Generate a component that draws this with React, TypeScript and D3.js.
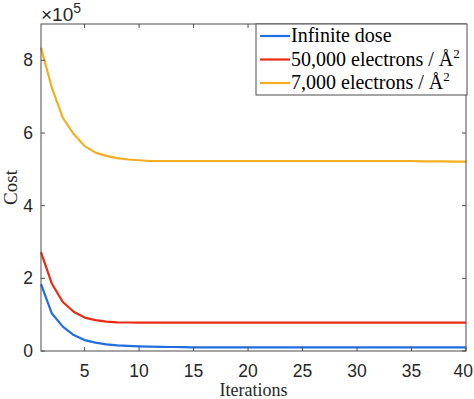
import React from "react";
import * as d3 from "d3";

// Cost per iteration (units of 1e5)
const iterations = d3.range(1, 41);
const infiniteDose = [1.84, 1.03, 0.67, 0.44, 0.3, 0.23, 0.18, 0.155, 0.14, 0.13, 0.12, 0.115, 0.11, 0.105, 0.1, 0.1, 0.1, 0.1, 0.1, 0.1, 0.1, 0.1, 0.1, 0.1, 0.1, 0.1, 0.1, 0.1, 0.1, 0.1, 0.1, 0.1, 0.1, 0.1, 0.1, 0.1, 0.1, 0.1, 0.1, 0.1];
const dose50k = [2.72, 1.85, 1.35, 1.08, 0.92, 0.85, 0.81, 0.79, 0.785, 0.78, 0.78, 0.78, 0.78, 0.78, 0.78, 0.78, 0.78, 0.78, 0.78, 0.78, 0.78, 0.78, 0.78, 0.78, 0.78, 0.78, 0.78, 0.78, 0.78, 0.78, 0.78, 0.78, 0.78, 0.78, 0.78, 0.78, 0.78, 0.78, 0.78, 0.78];
const dose7k = [8.35, 7.24, 6.42, 5.97, 5.64, 5.46, 5.37, 5.31, 5.27, 5.25, 5.23, 5.23, 5.23, 5.23, 5.23, 5.23, 5.23, 5.23, 5.23, 5.23, 5.23, 5.23, 5.23, 5.23, 5.23, 5.23, 5.23, 5.23, 5.23, 5.23, 5.23, 5.23, 5.23, 5.23, 5.23, 5.22, 5.22, 5.22, 5.21, 5.21];

const xTicks = [5, 10, 15, 20, 25, 30, 35, 40];
const yTicks = [0, 2, 4, 6, 8];

const series = [
  { name: "Infinite dose", values: infiniteDose, color: "#1f6fe0", sup: false },
  { name: "50,000 electrons / Å", values: dose50k, color: "#ea2a14", sup: true },
  { name: "7,000 electrons / Å", values: dose7k, color: "#f2b01e", sup: true },
];

const W = 474;
const H = 399;
const left = 41, right = 466, top = 24, bottom = 351;

export default function App() {
  const x = d3.scaleLinear().domain([1, 40]).range([left, right]);
  const y = d3.scaleLinear().domain([0, 9]).range([bottom, top]);
  const line = d3.line<number>().x((_, i) => x(iterations[i])).y(d => y(d));
  const axisColor = "#4d4d4d";
  const sans = "'Liberation Sans', Arial, sans-serif";
  const serif = "'Liberation Serif', 'Times New Roman', serif";

  return (
    <svg width={W} height={H} style={{ position: "absolute", left: 0, top: 0, background: "#fff" }}>
      <rect x={0} y={0} width={W} height={H} fill="#fff" />
      <g fill="none" strokeWidth={2.2} strokeLinejoin="round">
        {series.map(s => (
          <path key={s.name} d={line(s.values) || ""} stroke={s.color} />
        ))}
      </g>
      <rect x={left} y={top} width={right - left} height={bottom - top} fill="none" stroke={axisColor} strokeWidth={1} />
      {xTicks.map((t, i) => (
        <g key={"x" + t}>
          <line x1={x(t)} x2={x(t)} y1={bottom} y2={bottom - 4} stroke={axisColor} />
          <line x1={x(t)} x2={x(t)} y1={top} y2={top + 4} stroke={axisColor} />
          <text x={i === xTicks.length - 1 ? W - 1 : x(t)} y={377} textAnchor={i === xTicks.length - 1 ? "end" : "middle"} fontFamily={sans} fontSize={17.5} fill="#262626">{t}</text>
        </g>
      ))}
      {yTicks.map(t => (
        <g key={"y" + t}>
          <line x1={left} x2={left + 4} y1={y(t)} y2={y(t)} stroke={axisColor} />
          <line x1={right} x2={right - 4} y1={y(t)} y2={y(t)} stroke={axisColor} />
          <text x={33} y={y(t) + 6} textAnchor="end" fontFamily={sans} fontSize={17.5} fill="#262626">{t}</text>
        </g>
      ))}
      <text x={41} y={21} fontFamily={sans} fontSize={19} fill="#262626">×10<tspan dy={-8} fontSize={14}>5</tspan></text>
      <text transform={`translate(17,${(top + bottom) / 2}) rotate(-90)`} textAnchor="middle" fontFamily={serif} fontSize={19} fill="#262626">Cost</text>
      <text x={(left + right) / 2} y={396} textAnchor="middle" fontFamily={serif} fontSize={18} fill="#262626">Iterations</text>
      <g>
        <rect x={256} y={top} width={right - 256 + 1} height={71} fill="#fff" stroke={axisColor} />
        {series.map((s, i) => {
          const ry = 36 + i * 23.5;
          return (
            <g key={"l" + s.name}>
              <line x1={260} x2={290} y1={ry} y2={ry} stroke={s.color} strokeWidth={2.2} />
              <text x={291} y={ry + 6} fontFamily={serif} fontSize={20} fill="#000">
                {s.name}
                {s.sup && <tspan dy={-8} fontSize={13}>2</tspan>}
              </text>
            </g>
          );
        })}
      </g>
    </svg>
  );
}
